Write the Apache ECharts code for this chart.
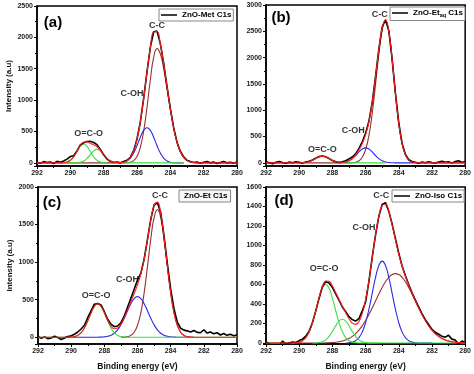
<!DOCTYPE html>
<html><head><meta charset="utf-8">
<script src="https://cdn.jsdelivr.net/npm/echarts@6/dist/echarts.min.js"></script>
<style>html,body{margin:0;padding:0;background:#fff}#c{width:474px;height:374px}</style>
</head><body><div id="c"></div>
<script>
// Binding energy grid (eV), shared by all panels
const energy = [292.0,291.8,291.6,291.4,291.2,291.0,290.8,290.6,290.4,290.2,290.0,289.8,289.6,289.4,289.2,289.0,288.8,288.6,288.4,288.2,288.0,287.8,287.6,287.4,287.2,287.0,286.8,286.6,286.4,286.2,286.0,285.8,285.6,285.4,285.2,285.0,284.8,284.6,284.4,284.2,284.0,283.8,283.6,283.4,283.2,283.0,282.8,282.6,282.4,282.2,282.0,281.8,281.6,281.4,281.2,281.0,280.8,280.6,280.4,280.2,280.0];
const N = null;

// (a) ZnO-Met C1s
const a_data = [10,-5,20,5,15,-10,25,10,30,60, 100,115,190,285,320,340,345,325,290,215, 130,60,25,5,15,0,20,40,90,195, 380,650,1030,1450,1840,2090,2100,1900,1590,1220, 870,560,330,185,95,40,20,5,15,-5, 10,20,0,15,-10,5,20,0,10,-5,15];
const a_fit = [0,0,0,0,0,0,0,0,3,13, 41,98,184,274,329,335,313,288,256,203, 134,70,29,9,2,3,11,34,87,192, 375,653,1023,1446,1838,2087,2093,1892,1581,1219, 865,560,331,178,87,39,16,6,0,0, 0,0,0,0,0,0,0,0,0,0,0];
const a_cc = [0,0,0,0,0,0,0,0,0,0, 0,0,0,0,0,0,0,0,0,0, 0,0,0,0,0,0,0,3,11,36, 102,246,506,886,1321,1680,1820,1736,1505,1188, 854,557,331,178,87,39,16,6,0,0, 0,0,0,0,0,0,0,0,0,0,0];
const a_coh = [N,N,N,N,N,N,N,N,N,N, N,N,N,N,N,N,N,N,N,N, N,N,N,N,N,3,11,31,76,156, 273,407,517,560,517,407,273,156,76,31, 11,3,0,0,0,N,N,N,N,N, N,N,N,N,N,N,N,N,N,N,N];
const a_oco1 = [N,N,N,N,N,N,N,N,3,13, 41,98,182,265,300,265,182,98,41,13, 3,0,N,N,N,N,N,N,N,N, N,N,N,N,N,N,N,N,N,N, N,N,N,N,N,N,N,N,N,N, N,N,N,N,N,N,N,N,N,N,N];
const a_oco2 = [N,N,N,N,N,N,N,N,N,0, 0,0,2,9,29,70,131,190,215,190, 131,70,29,9,2,0,0,0,0,0, 0,0,0,0,0,0,0,0,0,0, 0,0,0,0,0,N,N,N,N,N, N,N,N,N,N,N,N,N,N,N,N];
const a_labels = [['C-C',284.8,2190],['C-OH',286.3,1110],['O=C-O',288.9,470]];

// (b) ZnO-Et(aq) C1s
const b_data = [20,0,-15,10,25,5,-10,15,0,20, 10,-5,15,30,55,90,120,130,115,80, 45,20,5,20,40,75,110,170,270,400, 560,790,1150,1640,2160,2580,2720,2510,1970,1320, 760,370,160,60,25,10,-10,15,0,20, 5,-5,15,30,10,20,-5,25,40,10,20];
const b_fit = [0,0,0,0,0,0,0,0,0,0, 1,4,11,26,51,84,113,125,113,84, 51,26,13,10,17,38,83,152,246,369, 535,779,1144,1629,2153,2565,2716,2498,1962,1315, 751,365,151,53,16,4,0,0,0,0, 0,0,0,0,0,0,0,0,0,0,0];
const b_cc = [0,0,0,0,0,0,0,0,0,0, 0,0,0,0,0,0,0,0,0,0, 0,0,0,0,0,0,4,13,39,106, 250,516,937,1490,2074,2527,2700,2492,1960,1315, 751,365,151,53,16,4,0,0,0,0, 0,0,0,0,0,0,0,0,0,0,0];
const b_coh = [N,N,N,N,N,N,N,N,N,N, N,N,N,N,N,N,N,N,N,N, N,N,2,6,16,38,79,139,207,263, 285,263,207,139,79,38,16,6,2,0, 0,0,0,0,0,0,N,N,N,N, N,N,N,N,N,N,N,N,N,N,N];
const b_oco = [N,N,N,N,N,N,N,N,N,0, 1,4,11,26,51,84,113,125,113,84, 51,26,11,4,1,0,0,0,0,0, 0,0,0,0,0,0,0,N,N,N, N,N,N,N,N,N,N,N,N,N, N,N,N,N,N,N,N,N,N,N,N];
const b_labels = [['C-C',285.15,2820],['C-OH',286.75,620],['O=C-O',288.6,260]];

// (c) ZnO-Et C1s
const c_data = [10,-15,5,-20,-10,15,-5,-30,-10,10, 20,40,70,110,160,260,350,440,450,430, 340,240,175,140,150,190,280,400,520,640, 760,850,1040,1300,1570,1760,1790,1660,1350,980, 640,380,200,120,95,85,70,90,65,60, 100,55,70,45,60,30,50,25,40,20,30];
const c_fit = [0,0,0,0,0,0,0,0,0,1, 3,9,25,60,124,217,323,411,445,413, 328,229,150,113,123,174,258,362,472,582, 697,840,1037,1291,1559,1756,1798,1644,1332,950, 595,327,157,67,25,8,2,0,0,0, 0,0,0,0,0,0,0,0,0,0,0];
const c_cc = [N,N,N,N,N,N,N,N,N,N, N,N,N,N,N,N,N,N,N,N, N,N,N,N,N,0,2,8,25,67, 157,325,590,938,1306,1591,1700,1591,1306,938, 590,325,157,67,25,8,2,0,N,N, N,N,N,N,N,N,N,N,N,N,N];
const c_coh = [N,N,N,N,N,N,N,N,0,0, 0,0,0,0,0,0,0,0,0,2, 5,12,26,53,98,165,253,353,447,515, 540,515,447,353,253,165,98,53,26,12, 5,2,0,0,0,0,0,N,N,N, N,N,N,N,N,N,N,N,N,N,N];
const c_oco = [0,0,0,0,0,0,0,0,0,1, 3,9,25,60,124,217,323,411,445,411, 323,217,124,60,25,9,3,1,0,0, 0,0,0,0,0,0,0,0,0,0, 0,0,0,0,0,0,0,0,0,0, 0,0,0,0,0,0,0,0,0,0,0];
const c_labels = [['C-C',284.65,1890],['C-OH',286.6,775],['O=C-O',288.5,550]];

// (d) ZnO-Iso C1s
const d_data = [10,-10,-20,-15,-25,20,-10,0,10,5, 25,40,70,120,210,330,460,580,630,615, 570,505,440,370,320,270,240,225,250,330, 420,630,880,1110,1300,1420,1440,1350,1220,1070, 920,790,690,600,515,440,370,300,240,190, 140,110,90,70,60,80,40,30,-10,20,5];
const d_fit = [0,0,0,0,0,0,0,0,1,3, 8,24,56,115,208,332,466,576,635,633, 585,516,446,379,313,251,204,191,221,304, 445,639,870,1105,1298,1410,1423,1347,1212,1057, 911,787,683,594,512,435,361,293,231,177, 132,96,68,47,31,20,13,8,5,3,2];
const d_cc = [0,0,0,0,0,0,0,0,0,0, 0,0,0,0,0,0,0,0,2,3, 5,8,13,20,31,47,68,96,132,177, 231,293,360,432,503,570,628,674,702,712, 702,674,628,570,503,432,360,293,231,177, 132,96,68,47,31,20,13,8,5,3,2];
const d_coh = [N,N,N,N,N,N,N,N,N,N, N,N,N,N,N,N,N,N,N,N, N,N,N,N,1,3,9,24,55,113, 209,345,510,673,795,840,795,673,510,345, 209,113,55,24,9,3,1,0,0,0, 0,N,N,N,N,N,N,N,N,N,N];
const d_oco1 = [0,0,0,0,0,0,0,0,1,3, 8,24,56,115,208,331,461,562,600,562, 461,331,208,115,56,24,8,3,1,0, 0,0,0,0,0,0,0,0,0,0, 0,0,0,0,0,0,0,0,0,0, 0,0,0,0,0,0,0,0,0,0,0];
const d_oco2 = [N,N,N,N,N,N,N,N,N,N, N,N,N,N,0,1,5,14,33,68, 119,177,225,244,225,177,119,68,33,14, 5,1,0,0,0,N,N,N,N,N, N,N,N,N,N,N,N,N,N,N, N,N,N,N,N,N,N,N,N,N,N];
const d_labels = [['C-C',285.05,1515],['C-OH',286.1,1180],['O=C-O',288.5,765]];

// tick settings
const xTicks = {min: 280, max: 292, step: 2};
const yRanges = [[-50, 2500, 500], [-60, 3000, 500], [-90, 2000, 500], [-10, 1600, 200]];
const sampleNames = ['ZnO-Met C1s', 'ZnO-Etaq C1s', 'ZnO-Et C1s', 'ZnO-Iso C1s'];

const FONT = '"Liberation Sans", Arial, sans-serif';
const COL = {data:'#000', fit:'#ff1a1a', cc:'#9a2f2f', coh:'#2a2ae6', oco:'#3fdc3f'};

const panels = [
  {grid:{left:37, top:6, width:200, height:160}, yTitle:true, xTitle:false, legend:{left:159, top:9, icon:true}, letter:'(a)', lx:53, ly:23,
   comps:[[a_cc,COL.cc],[a_coh,COL.coh],[a_oco2,COL.oco],[a_oco1,COL.oco]], data:a_data, fit:a_fit, labels:a_labels},
  {grid:{left:266, top:5, width:201, height:161}, yTitle:false, xTitle:false, legend:{left:390, top:7, icon:true}, letter:'(b)', lx:281, ly:18,
   comps:[[b_cc,COL.cc],[b_coh,COL.coh],[b_oco,COL.oco]], data:b_data, fit:b_fit, labels:b_labels},
  {grid:{left:38, top:187, width:199, height:157}, yTitle:true, xTitle:true, legend:{left:179, top:190, icon:false}, letter:'(c)', lx:52, ly:203,
   comps:[[c_cc,COL.cc],[c_coh,COL.coh],[c_oco,COL.oco]], data:c_data, fit:c_fit, labels:c_labels},
  {grid:{left:266, top:187, width:201, height:157}, yTitle:false, xTitle:true, legend:{left:392, top:190, icon:true}, letter:'(d)', lx:284, ly:201,
   comps:[[d_cc,COL.cc],[d_coh,COL.coh],[d_oco2,COL.oco],[d_oco1,COL.oco]], data:d_data, fit:d_fit, labels:d_labels}
];

function pairs(arr){
  const out = [];
  for (let i = 0; i < energy.length; i++) if (arr[i] !== null) out.push([energy[i], arr[i]]);
  return out;
}

const grids = [], xAxes = [], yAxes = [], series = [], legends = [], graphics = [];
panels.forEach((p, i) => {
  grids.push(Object.assign({show:true, borderColor:'#000', borderWidth:1.5, backgroundColor:'#fff'}, p.grid));
  xAxes.push({
    type:'value', gridIndex:i, min:xTicks.min, max:xTicks.max, interval:xTicks.step, inverse:true,
    axisLine:{onZero:false, lineStyle:{color:'#000', width:1.5}},
    axisTick:{length:3, lineStyle:{color:'#000', width:1}},
    minorTick:{show:true, splitNumber:2, length:2, lineStyle:{color:'#000'}},
    splitLine:{show:false},
    axisLabel:{fontSize:7, fontWeight:'bold', color:'#222', margin:4, fontFamily:FONT, formatter: v => String(v)},
    name: p.xTitle ? 'Binding energy (eV)' : '', nameLocation:'middle', nameGap:18,
    nameTextStyle:{fontSize:8.5, fontWeight:'bold', color:'#111', fontFamily:FONT}
  });
  const yr = yRanges[i];
  yAxes.push({
    type:'value', gridIndex:i, min:yr[0], max:yr[1], splitNumber:Math.round((yr[1]-yr[0])/yr[2]),
    minInterval:yr[2], maxInterval:yr[2],
    axisLine:{onZero:false, lineStyle:{color:'#000', width:1.5}},
    axisTick:{length:3, lineStyle:{color:'#000', width:1}},
    minorTick:{show:true, splitNumber:2, length:2, lineStyle:{color:'#000'}},
    splitLine:{show:false},
    axisLabel:{fontSize:7, fontWeight:'bold', color:'#222', margin:4, fontFamily:FONT, showMinLabel:false,
      formatter: v => (v < 0 ? '' : String(v))},
    name: p.yTitle ? 'Intensity (a.u)' : '', nameLocation:'middle', nameGap:24,
    nameTextStyle:{fontSize:8, fontWeight:'bold', color:'#111', fontFamily:FONT}
  });
  p.comps.forEach(c => {
    series.push({type:'line', xAxisIndex:i, yAxisIndex:i, data:pairs(c[0]), smooth:true, symbol:'none',
      silent:true, color:c[1], lineStyle:{color:c[1], width:1.1}});
  });
  series.push({type:'line', name:sampleNames[i], xAxisIndex:i, yAxisIndex:i, data:pairs(p.data), smooth:false, symbol:'none',
    silent:true, color:COL.data, lineStyle:{color:COL.data, width:1.6}});
  series.push({type:'line', xAxisIndex:i, yAxisIndex:i, data:pairs(p.fit), smooth:true, symbol:'none',
    silent:true, color:COL.fit, lineStyle:{color:COL.fit, width:1.1}});
  series.push({type:'scatter', xAxisIndex:i, yAxisIndex:i, symbolSize:1, silent:true,
    itemStyle:{color:'rgba(0,0,0,0)'},
    data:p.labels.map(l => ({name:l[0], value:[l[1], l[2]]})),
    label:{show:true, position:'inside', formatter:'{b}', fontSize:9, fontWeight:'bold', color:'#000', fontFamily:FONT}});
  legends.push({
    data:[sampleNames[i]], left:p.legend.left, top:p.legend.top, selectedMode:false,
    backgroundColor: p.legend.icon ? '#fff' : '#f6f6f6', borderColor:'#888', borderWidth:1, borderRadius:0,
    padding: p.legend.icon ? [2,2,2,2] : [2,3,2,0],
    icon:'rect', itemWidth: p.legend.icon ? 16 : 0, itemHeight:1.5,
    formatter: name => name === 'ZnO-Etaq C1s' ? '{t|ZnO-Et}{s|aq}{t| C1s}' : name,
    textStyle:{fontSize:8, fontWeight:'bold', color:'#000', fontFamily:FONT,
      rich:{t:{fontSize:8, fontWeight:'bold', color:'#000', fontFamily:FONT},
            s:{fontSize:5.5, fontWeight:'bold', color:'#000', fontFamily:FONT, padding:[5,0,0,0]}}}
  });
  graphics.push({type:'text', x:p.lx, y:p.ly, z:100,
    style:{text:p.letter, font:'bold 15px ' + FONT, fill:'#000', textAlign:'center', textVerticalAlign:'middle', verticalAlign:'middle'}});
});

const chart = echarts.init(document.getElementById('c'), null, {renderer:'canvas'});
chart.setOption({
  animation:false,
  backgroundColor:'#fff',
  grid:grids, xAxis:xAxes, yAxis:yAxes, series:series, legend:legends, graphic:graphics
});
</script>
</body></html>
